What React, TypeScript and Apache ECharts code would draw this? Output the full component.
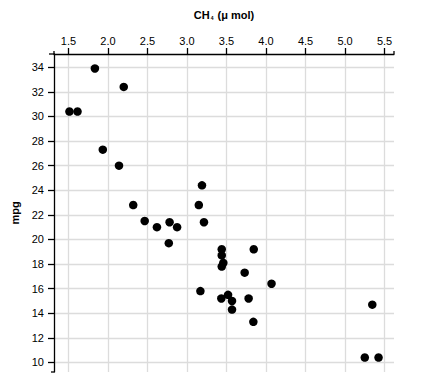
import React, { useEffect, useRef } from "react";
import * as echarts from "echarts";

// mtcars-like data: weight (shown as CH4) vs mpg
const xValues = [2.62, 2.875, 2.32, 3.215, 3.44, 3.46, 3.57, 3.19, 3.15, 3.44, 3.44, 4.07, 3.73, 3.78, 5.25, 5.424, 5.345, 2.2, 1.615, 1.835, 2.465, 3.52, 3.435, 3.84, 3.845, 1.935, 2.14, 1.513, 3.17, 2.77, 3.57, 2.78];
const yValues = [21.0, 21.0, 22.8, 21.4, 18.7, 18.1, 14.3, 24.4, 22.8, 19.2, 17.8, 16.4, 17.3, 15.2, 10.4, 10.4, 14.7, 32.4, 30.4, 33.9, 21.5, 15.5, 15.2, 13.3, 19.2, 27.3, 26.0, 30.4, 15.8, 19.7, 15.0, 21.4];
const xTicks = [1.5, 2.0, 2.5, 3.0, 3.5, 4.0, 4.5, 5.0, 5.5];
const yTicks = [10, 12, 14, 16, 18, 20, 22, 24, 26, 28, 30, 32, 34];
const xDomain = [1.3175, 5.6196];
const yDomain = [9.225, 35.075];

const FONT = "'Liberation Sans', Arial, Helvetica, sans-serif";
const GRID = { left: 54, top: 54, right: 27, bottom: 17 };
const W = 421;
const H = 389;

export default function App() {
  const ref = useRef<HTMLDivElement>(null);
  useEffect(() => {
    document.body.style.margin = "0";
    if (!ref.current) return;
    const chart = echarts.init(ref.current, undefined, { renderer: "svg" });
    const L = GRID.left;
    const T = GRID.top;
    const Rt = W - GRID.right;
    const B = H - GRID.bottom;
    chart.setOption({
      animation: false,
      backgroundColor: "#fff",
      grid: { left: GRID.left, top: GRID.top, right: GRID.right, bottom: GRID.bottom },
      xAxis: {
        type: "value",
        position: "top",
        min: xDomain[0],
        max: xDomain[1],
        name: "{a|CH}{s|4}{a| (μ mol)}",
        nameLocation: "middle",
        nameGap: 34,
        nameTextStyle: {
          fontFamily: FONT,
          fontWeight: "bold",
          fontSize: 11,
          color: "#000",
          rich: {
            a: { fontFamily: FONT, fontWeight: "bold", fontSize: 11, color: "#000" },
            s: { fontFamily: FONT, fontWeight: "bold", fontSize: 5, color: "#000", verticalAlign: "bottom", padding: [4, 1, 0, 1] },
          },
        },
        axisLine: { show: true, onZero: false, lineStyle: { color: "#000", width: 1.3 } },
        axisTick: { show: true, length: 6, customValues: xTicks, lineStyle: { color: "#000", width: 1.3 } },
        axisLabel: {
          customValues: xTicks,
          margin: 8,
          fontFamily: FONT,
          fontSize: 11,
          color: "#000",
          formatter: (v: number) => v.toFixed(1),
        },
        splitLine: { show: true, lineStyle: { color: "#dcdcdc", width: 1.3 } },
      },
      yAxis: {
        type: "value",
        min: yDomain[0],
        max: yDomain[1],
        name: "mpg",
        nameLocation: "middle",
        nameGap: 30,
        nameRotate: 90,
        nameTextStyle: { fontFamily: FONT, fontWeight: "bold", fontSize: 11, color: "#000" },
        axisLine: { show: true, onZero: false, lineStyle: { color: "#000", width: 1.3 } },
        axisTick: { show: true, length: 6, customValues: yTicks, lineStyle: { color: "#000", width: 1.3 } },
        axisLabel: {
          customValues: yTicks,
          margin: 10,
          fontFamily: FONT,
          fontSize: 11,
          color: "#000",
          formatter: (v: number) => String(Math.round(v)),
        },
        splitLine: { show: true, lineStyle: { color: "#dcdcdc", width: 1.3 } },
      },
      graphic: [
        { type: "line", shape: { x1: L - 5, y1: T, x2: L, y2: T }, style: { stroke: "#000", lineWidth: 1.3 } },
        { type: "line", shape: { x1: L - 3, y1: B, x2: L, y2: B }, style: { stroke: "#000", lineWidth: 1.3 } },
        { type: "line", shape: { x1: L, y1: T - 3, x2: L, y2: T }, style: { stroke: "#000", lineWidth: 1.3 } },
        { type: "line", shape: { x1: Rt, y1: T - 3, x2: Rt, y2: T }, style: { stroke: "#000", lineWidth: 1.3 } },
      ],
      series: [
        {
          type: "scatter",
          symbol: "circle",
          symbolSize: 8.5,
          itemStyle: { color: "#000", opacity: 1 },
          data: xValues.map((x, i) => [x, yValues[i]]),
        },
      ],
    });
    return () => chart.dispose();
  }, []);
  return <div ref={ref} style={{ width: W, height: H }} />;
}
